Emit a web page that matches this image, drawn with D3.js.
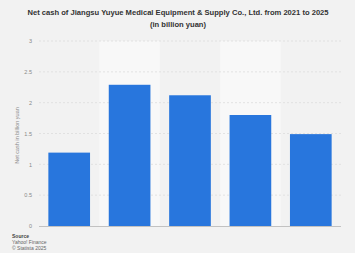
<!DOCTYPE html>
<html><head><meta charset="utf-8">
<script src="https://cdn.jsdelivr.net/npm/d3@7"></script>
<style>html,body{margin:0;padding:0;background:#f2f2f2;}svg{display:block;font-family:"Liberation Sans",Arial,sans-serif;}</style>
</head><body>
<svg id="c" width="355" height="253"></svg>
<script>
const years = ["2021","2022","2023","2024","2025"];
const netCash = [1.19, 2.29, 2.12, 1.80, 1.49];
const yTicks = [0, 0.5, 1, 1.5, 2, 2.5, 3];
const yTickLabels = ["0", "0.5", "1", "1.5", "2", "2.5", "3"];

(function () {
const svg = d3.select("#c");
const W = 355, H = 253;
svg.append("rect").attr("width", W).attr("height", H).attr("fill", "#f2f2f2");

const pL = 39, pR = 341, pT = 41, pB = 226;
const x = d3.scaleBand().domain(years).range([pL, pR]).paddingInner(0.31).paddingOuter(0.155);
const xb = d3.scaleBand().domain(years).range([pL, pR]);
const y = d3.scaleLinear().domain([0, 3]).range([pB, pT]);

// alternating bands
svg.append("g").selectAll("rect").data(years.filter((d, i) => i % 2 === 1)).join("rect")
  .attr("x", d => xb(d)).attr("width", xb.bandwidth())
  .attr("y", pT).attr("height", pB - pT).attr("fill", "#f8f8f8");

// gridlines
svg.append("g").selectAll("line").data(yTicks.filter(d => d > 0)).join("line")
  .attr("x1", pL).attr("x2", pR)
  .attr("y1", d => y(d)).attr("y2", d => y(d))
  .attr("stroke", "#dadada").attr("stroke-width", 0.7).attr("stroke-dasharray", "2,2");

// y tick labels
const yAxis = d3.axisLeft(y).tickValues(yTicks).tickFormat((d, i) => yTickLabels[i]).tickSize(0).tickPadding(7);
const gy = svg.append("g").attr("transform", `translate(${pL},0)`).call(yAxis);
gy.select(".domain").remove();
gy.selectAll("text").attr("fill", "#888").attr("font-size", 5.5).attr("font-family", "Liberation Sans, Arial, sans-serif");

// bars
svg.append("g").selectAll("rect").data(years).join("rect")
  .attr("x", d => x(d)).attr("width", x.bandwidth())
  .attr("y", (d, i) => y(netCash[i])).attr("height", (d, i) => pB - y(netCash[i]))
  .attr("fill", "#2876dd");

// x axis baseline
svg.append("line").attr("x1", pL).attr("x2", pR).attr("y1", pB + 0.5).attr("y2", pB + 0.5)
  .attr("stroke", "#b5b5b5").attr("stroke-width", 0.8);

// y label
svg.append("text").attr("transform", `translate(19,${(pT + pB) / 2 + 2}) rotate(-90)`)
  .attr("text-anchor", "middle").attr("font-size", 5.5).attr("fill", "#888")
  .text("Net cash in billion yuan");

// title
const title = svg.append("text").attr("text-anchor", "middle").attr("font-weight", "bold")
  .attr("font-size", 7.6).attr("fill", "#333");
title.append("tspan").attr("x", 178).attr("y", 15).text("Net cash of Jiangsu Yuyue Medical Equipment & Supply Co., Ltd. from 2021 to 2025");
title.append("tspan").attr("x", 178).attr("y", 26.5).text("(in billion yuan)");

// source
const src = svg.append("g").attr("font-size", 5).attr("fill", "#666");
src.append("text").attr("x", 12).attr("y", 238).attr("font-weight", "bold").attr("fill", "#444").text("Source");
src.append("text").attr("x", 12).attr("y", 244).text("Yahoo! Finance");
src.append("text").attr("x", 12).attr("y", 250).text("© Statista 2025");
})();
</script>
</body></html>
